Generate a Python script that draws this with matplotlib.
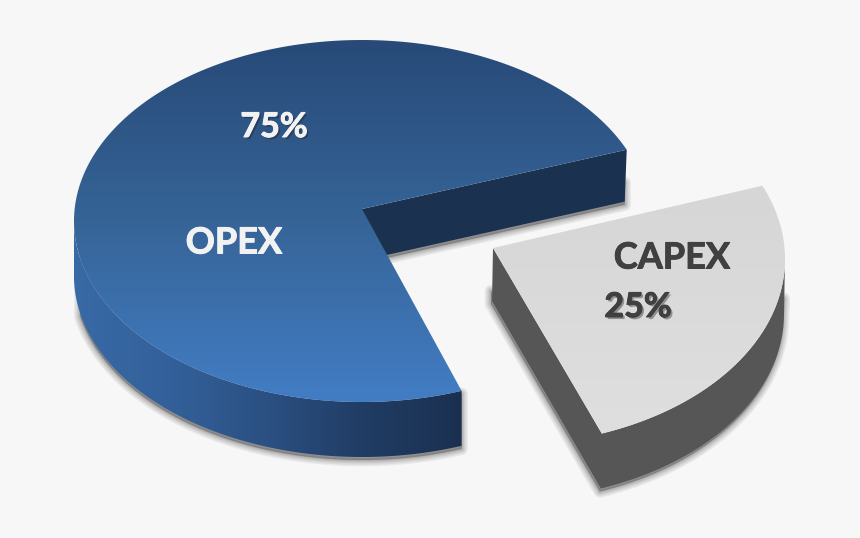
#!/usr/bin/env python3
"""OPEX / CAPEX exploded 3D style pie"""
import numpy as np
import matplotlib
matplotlib.use("Agg")
import matplotlib.pyplot as plt
import matplotlib.patheffects as pe
from matplotlib.colors import LinearSegmentedColormap
from matplotlib.patches import Polygon

labels = ["OPEX", "CAPEX"]
shares = [75, 25]

BG = "#f7f7f7"
FONT = "Lato"
# the picture has a bit of perspective, a quarter is not quite 90 degrees
PERSPECTIVE = 0.989
START = 23.2


def arc(cx, cy, a, b, t0, t1, n=200):
    t = np.radians(np.linspace(t0, t1, n))
    return np.column_stack((cx + a * np.cos(t), cy - b * np.sin(t)))


def gradient_fill(ax, pts, colors, z, vertical=True):
    # image clipped by a polygon
    x0, y0 = pts.min(axis=0)
    x1, y1 = pts.max(axis=0)
    cmap = LinearSegmentedColormap.from_list("g", colors)
    grad = np.linspace(0, 1, 256)
    grad = grad.reshape(-1, 1) if vertical else grad.reshape(1, -1)
    im = ax.imshow(grad, cmap=cmap, aspect="auto", extent=(x0, x1, y1, y0), interpolation="bilinear", zorder=z)
    patch = Polygon(pts, closed=True, transform=ax.transData, fc="none", ec="none")
    ax.add_patch(patch)
    im.set_clip_path(patch)


def shadow(ax, pts, z, dx=0, dy=3):
    off = pts + np.array([dx, dy])
    for lw in (9, 7, 5, 3.5, 2, 1):
        ax.add_patch(Polygon(off, closed=True, fc="#303030", ec="#303030", lw=lw, alpha=0.07, joinstyle="round", zorder=z))


fig = plt.figure(figsize=(8.6, 5.38), dpi=100, facecolor=BG)
ax = fig.add_axes([0, 0, 1, 1])
ax.set_facecolor(BG)
ax.axis("off")

opex_sweep = shares[0] * 3.6 * PERSPECTIVE
opex_end = START + opex_sweep
capex_end = START + 360

# OPEX
apex = np.array([362.0, 209.0])
top_arc = arc(362, 221, 288, 181, START, opex_end)
wall_top = arc(362, 221, 288, 181, 180, opex_end)
wall_bot = arc(362, 276, 288, 181, 180, opex_end)
wall = np.vstack((wall_top, wall_bot[::-1]))
rim = top_arc[0]
cut = np.array([apex, rim, rim + [-2, 52], apex + [-2, 52]])

# shadow starts lower than the wall, so the top left edge stays clean
shadow(ax, np.vstack((arc(362, 221, 288, 181, 192, opex_end), arc(362, 276, 288, 181, 192, opex_end)[::-1])), 1)
shadow(ax, np.array([apex + [0, 30], rim + [-2, 30], rim + [-2, 52], apex + [-2, 52]]), 1)
gradient_fill(ax, wall, ["#386aa6", "#33609a", "#2b5082", "#203c64", "#1b3050"], 2, vertical=False)
ax.add_patch(Polygon(cut, closed=True, fc="#1b3150", ec="none", zorder=2))
gradient_fill(ax, np.vstack((apex, top_arc)), ["#274a78", "#366497", "#427dc4"], 3)

# CAPEX
c_apex = np.array([493.0, 248.0])
c_top = arc(505, 259, 280, 186, opex_end, capex_end)
c_bot = arc(504, 314, 280, 186, opex_end, capex_end)
# side and rim as one polygon, two of them leave a seam
c_body = np.vstack((c_apex, c_apex + [-1, 53], c_bot[:150], c_top[:150][::-1]))
shadow(ax, np.vstack((c_apex + [-1, 40], c_apex + [-1, 53], c_bot[:146], c_top[:146][::-1] + [0, 30])), 4, dx=-1)
ax.add_patch(Polygon(c_body, closed=True, fc="#565656", ec="none", zorder=5))
gradient_fill(ax, np.vstack((c_apex, c_top)), ["#d6d6d6", "#dfdfdf"], 6)

# labels
def bold(color, shadowed):
    fx = [pe.withStroke(linewidth=0.7, foreground=color)]
    if shadowed:
        fx = [pe.withSimplePatchShadow(offset=(1.5, -1.5), shadow_rgbFace="#222222", alpha=0.4)] + fx
    return fx


ax.text(234, 243, labels[0], color="#f2f2f2", fontsize=26, fontweight="bold", family=FONT, ha="center", va="center", path_effects=bold("#f2f2f2", False), zorder=7)
ax.text(274, 127, "%d%%" % shares[0], color="#f2f2f2", fontsize=24.5, fontweight="bold", family=FONT, ha="center", va="center", path_effects=bold("#f2f2f2", True), zorder=7)
ax.text(672, 258, labels[1], color="#404040", fontsize=26, fontweight="bold", family=FONT, ha="center", va="center", path_effects=bold("#404040", False), zorder=7)
ax.text(638, 307, "%d%%" % shares[1], color="#404040", fontsize=24.5, fontweight="bold", family=FONT, ha="center", va="center", path_effects=bold("#404040", True), zorder=7)

ax.set_xlim(0, 860)
ax.set_ylim(538, 0)
fig.savefig("out.png", dpi=100, facecolor=BG)
